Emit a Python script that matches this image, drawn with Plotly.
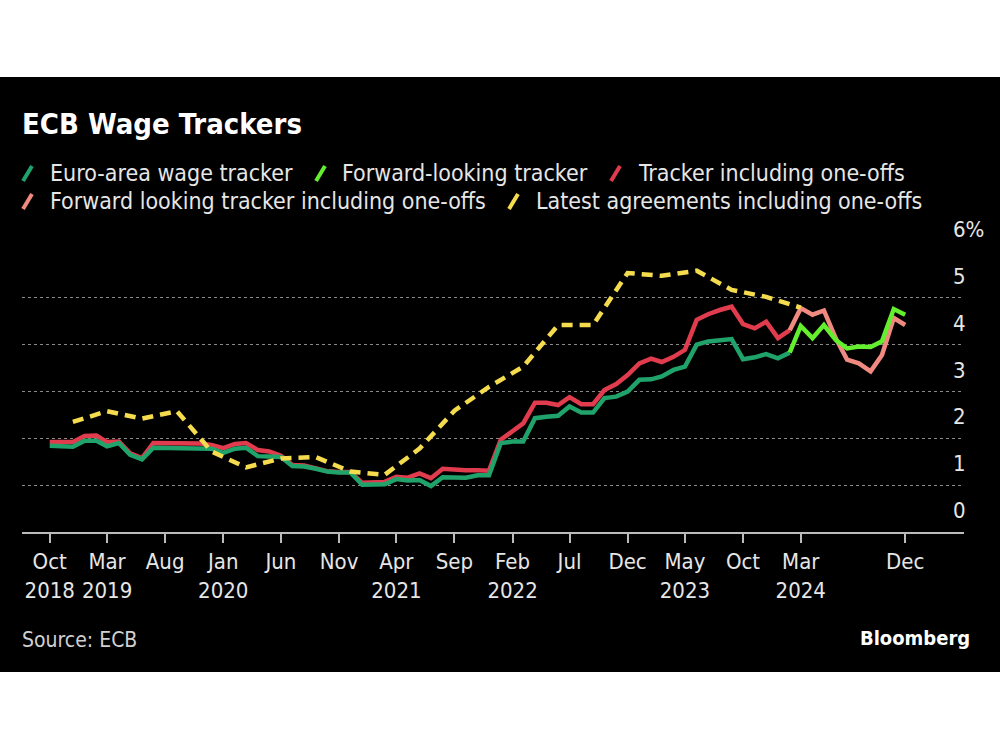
import pandas as pd
import plotly.graph_objects as go

# ---------------- data ----------------
tracker_dates = pd.date_range("2018-10-01", "2024-02-01", freq="MS")
forward_dates = pd.date_range("2024-02-01", "2024-12-01", freq="MS")
agreements_dates = pd.date_range("2018-12-01", "2024-03-01", freq="3MS")

wage_tracker = [
    1.84, 1.82, 1.82, 1.95, 1.95, 1.83, 1.90, 1.65, 1.55, 1.80,
    1.80, 1.80, 1.79, 1.78, 1.78, 1.69, 1.78, 1.80, 1.62, 1.61,
    1.60, 1.41, 1.40, 1.35, 1.29, 1.27, 1.27, 1.01, 1.01, 1.02,
    1.13, 1.10, 1.11, 0.98, 1.17, 1.16, 1.16, 1.21, 1.21, 1.90,
    1.93, 1.93, 2.43, 2.46, 2.48, 2.68, 2.55, 2.55, 2.86, 2.89,
    3.00, 3.25, 3.26, 3.32, 3.46, 3.53, 4.00, 4.07, 4.09, 4.12,
    3.69, 3.73, 3.80, 3.71, 3.83,
]
tracker_one_offs = [
    1.92, 1.92, 1.92, 2.05, 2.06, 1.92, 1.93, 1.68, 1.58, 1.90,
    1.90, 1.90, 1.90, 1.89, 1.86, 1.79, 1.88, 1.90, 1.75, 1.72,
    1.63, 1.43, 1.42, 1.36, 1.30, 1.28, 1.28, 1.05, 1.05, 1.07,
    1.18, 1.16, 1.25, 1.15, 1.35, 1.33, 1.32, 1.32, 1.31, 1.97,
    2.14, 2.32, 2.76, 2.76, 2.71, 2.88, 2.73, 2.73, 3.03, 3.16,
    3.35, 3.60, 3.70, 3.63, 3.74, 3.89, 4.53, 4.65, 4.74, 4.81,
    4.44, 4.35, 4.49, 4.14, 4.31,
]
forward_tracker = [3.83, 4.40, 4.14, 4.42, 4.10, 3.92, 3.96, 3.95, 4.07, 4.76, 4.64]
forward_one_offs = [4.31, 4.78, 4.64, 4.73, 4.14, 3.68, 3.60, 3.43, 3.78, 4.57, 4.42]
latest_agreements = [
    2.35, 2.58, 2.42, 2.58, 1.72, 1.38, 1.57, 1.60, 1.29, 1.22, 1.78,
    2.59, 3.10, 3.53, 4.42, 4.42, 5.53, 5.47, 5.58, 5.17, 5.02, 4.79,
]

series_names = [
    "Euro-area wage tracker",
    "Forward-looking tracker",
    "Tracker including one-offs",
    "Forward looking tracker including one-offs",
    "Latest agreements including one-offs",
]

tick_dates = ["2018-10-01", "2019-03-01", "2019-08-01", "2020-01-01", "2020-06-01",
              "2020-11-01", "2021-04-01", "2021-09-01", "2022-02-01", "2022-07-01",
              "2022-12-01", "2023-05-01", "2023-10-01", "2024-03-01", "2024-12-01"]
tick_text = ["Oct<br>2018", "Mar<br>2019", "Aug", "Jan<br>2020", "Jun", "Nov",
             "Apr<br>2021", "Sep", "Feb<br>2022", "Jul", "Dec", "May<br>2023",
             "Oct", "Mar<br>2024", "Dec"]
y_ticks = [0, 1, 2, 3, 4, 5, 6]
y_tick_text = ["0", "1", "2", "3", "4", "5", "6%"]

# ---------------- style ----------------
FONT = "DejaVu Sans Condensed, DejaVu Sans, sans-serif"
C_GREEN = "#1fa36b"
C_LIME = "#63ee2e"
C_RED = "#e03c4e"
C_SALMON = "#f08a80"
C_YELLOW = "#f5dc4f"
colors = [C_GREEN, C_LIME, C_RED, C_SALMON, C_YELLOW]
TXT = "#e6e6e6"

fig = go.Figure()
LW = 4.5
fig.add_trace(go.Scatter(x=tracker_dates, y=tracker_one_offs, mode="lines",
                         name=series_names[2], line=dict(color=C_RED, width=LW)))
fig.add_trace(go.Scatter(x=tracker_dates, y=wage_tracker, mode="lines",
                         name=series_names[0], line=dict(color=C_GREEN, width=LW)))
fig.add_trace(go.Scatter(x=forward_dates, y=forward_one_offs, mode="lines",
                         name=series_names[3], line=dict(color=C_SALMON, width=LW)))
fig.add_trace(go.Scatter(x=forward_dates, y=forward_tracker, mode="lines",
                         name=series_names[1], line=dict(color=C_LIME, width=LW)))
fig.add_trace(go.Scatter(x=agreements_dates, y=latest_agreements, mode="lines",
                         name=series_names[4],
                         line=dict(color=C_YELLOW, width=LW, dash="11px,7px")))

L, R, T, B = 22, 36, 251, 218
PW, PH = 1000 - L - R, 750 - T - B

def px_x(p):
    return (p - L) / PW

def px_y(p):
    return (750 - B - p) / PH

annotations = []
shapes = [dict(type="rect", xref="paper", yref="paper", layer="below",
               x0=px_x(0), x1=px_x(1000), y0=px_y(672), y1=px_y(77),
               fillcolor="black", line=dict(width=0))]

# title
annotations.append(dict(text="<b>ECB Wage Trackers</b>", xref="paper", yref="paper",
                        x=px_x(20), y=px_y(124), xanchor="left", yanchor="middle",
                        showarrow=False, font=dict(family=FONT, size=29, color="white")))

# legend (custom: slanted colour strokes + labels, two rows)
legend_layout = [  # (series index, stroke left px, text left px, row centre px)
    (0, 23, 48, 173), (1, 316, 340, 173), (2, 611, 636, 173),
    (3, 23, 48, 201), (4, 509, 534, 201),
]
for i, xs, xt, yc in legend_layout:
    shapes.append(dict(type="line", xref="paper", yref="paper",
                       x0=px_x(xs), y0=px_y(yc + 8), x1=px_x(xs + 9), y1=px_y(yc - 7),
                       line=dict(color=colors[i], width=4)))
    annotations.append(dict(text=series_names[i], xref="paper", yref="paper",
                            x=px_x(xt), y=px_y(yc), xanchor="left", yanchor="middle",
                            showarrow=False, font=dict(family=FONT, size=23, color=TXT)))

# y tick labels (above gridlines, right side, left-aligned)
for v, t in zip(y_ticks, y_tick_text):
    annotations.append(dict(text=t, xref="paper", yref="y", x=px_x(951), y=v,
                            xanchor="left", yanchor="bottom", yshift=7,
                            showarrow=False, font=dict(family=FONT, size=22, color=TXT)))
annotations.append(dict(text="Source: ECB", xref="paper", yref="paper",
                        x=px_x(20), y=px_y(640), xanchor="left", yanchor="middle",
                        showarrow=False, font=dict(family=FONT, size=21, color="#d0d0d0")))
annotations.append(dict(text="<b>Bloomberg</b>", xref="paper", yref="paper",
                        x=px_x(972), y=px_y(638), xanchor="right", yanchor="middle",
                        showarrow=False, font=dict(family=FONT, size=20, color="white")))

fig.update_layout(
    width=1000, height=750,
    margin=dict(l=L, r=R, t=T, b=B),
    paper_bgcolor="white", plot_bgcolor="black",
    showlegend=False,
    annotations=annotations, shapes=shapes,
    font=dict(family=FONT, size=22, color=TXT),
    xaxis=dict(type="date", range=["2018-07-20", "2025-05-05"],
               tickvals=tick_dates, ticktext=tick_text,
               ticks="outside", ticklen=9, tickwidth=1.5, tickcolor="#bbbbbb",
               showline=True, linecolor="#bbbbbb", linewidth=2,
               showgrid=False, zeroline=False,
               tickfont=dict(family=FONT, size=22, color=TXT)),
    yaxis=dict(range=[0, 6], tickvals=y_ticks, showticklabels=False,
               showgrid=True, gridcolor="#8a8a8a", gridwidth=1.2, griddash="dot",
               zeroline=False, showline=False, ticks=""),
)

fig.write_html("out.html", config={"displayModeBar": False},
               post_script="document.body.style.margin='0';document.body.style.padding='0';")
